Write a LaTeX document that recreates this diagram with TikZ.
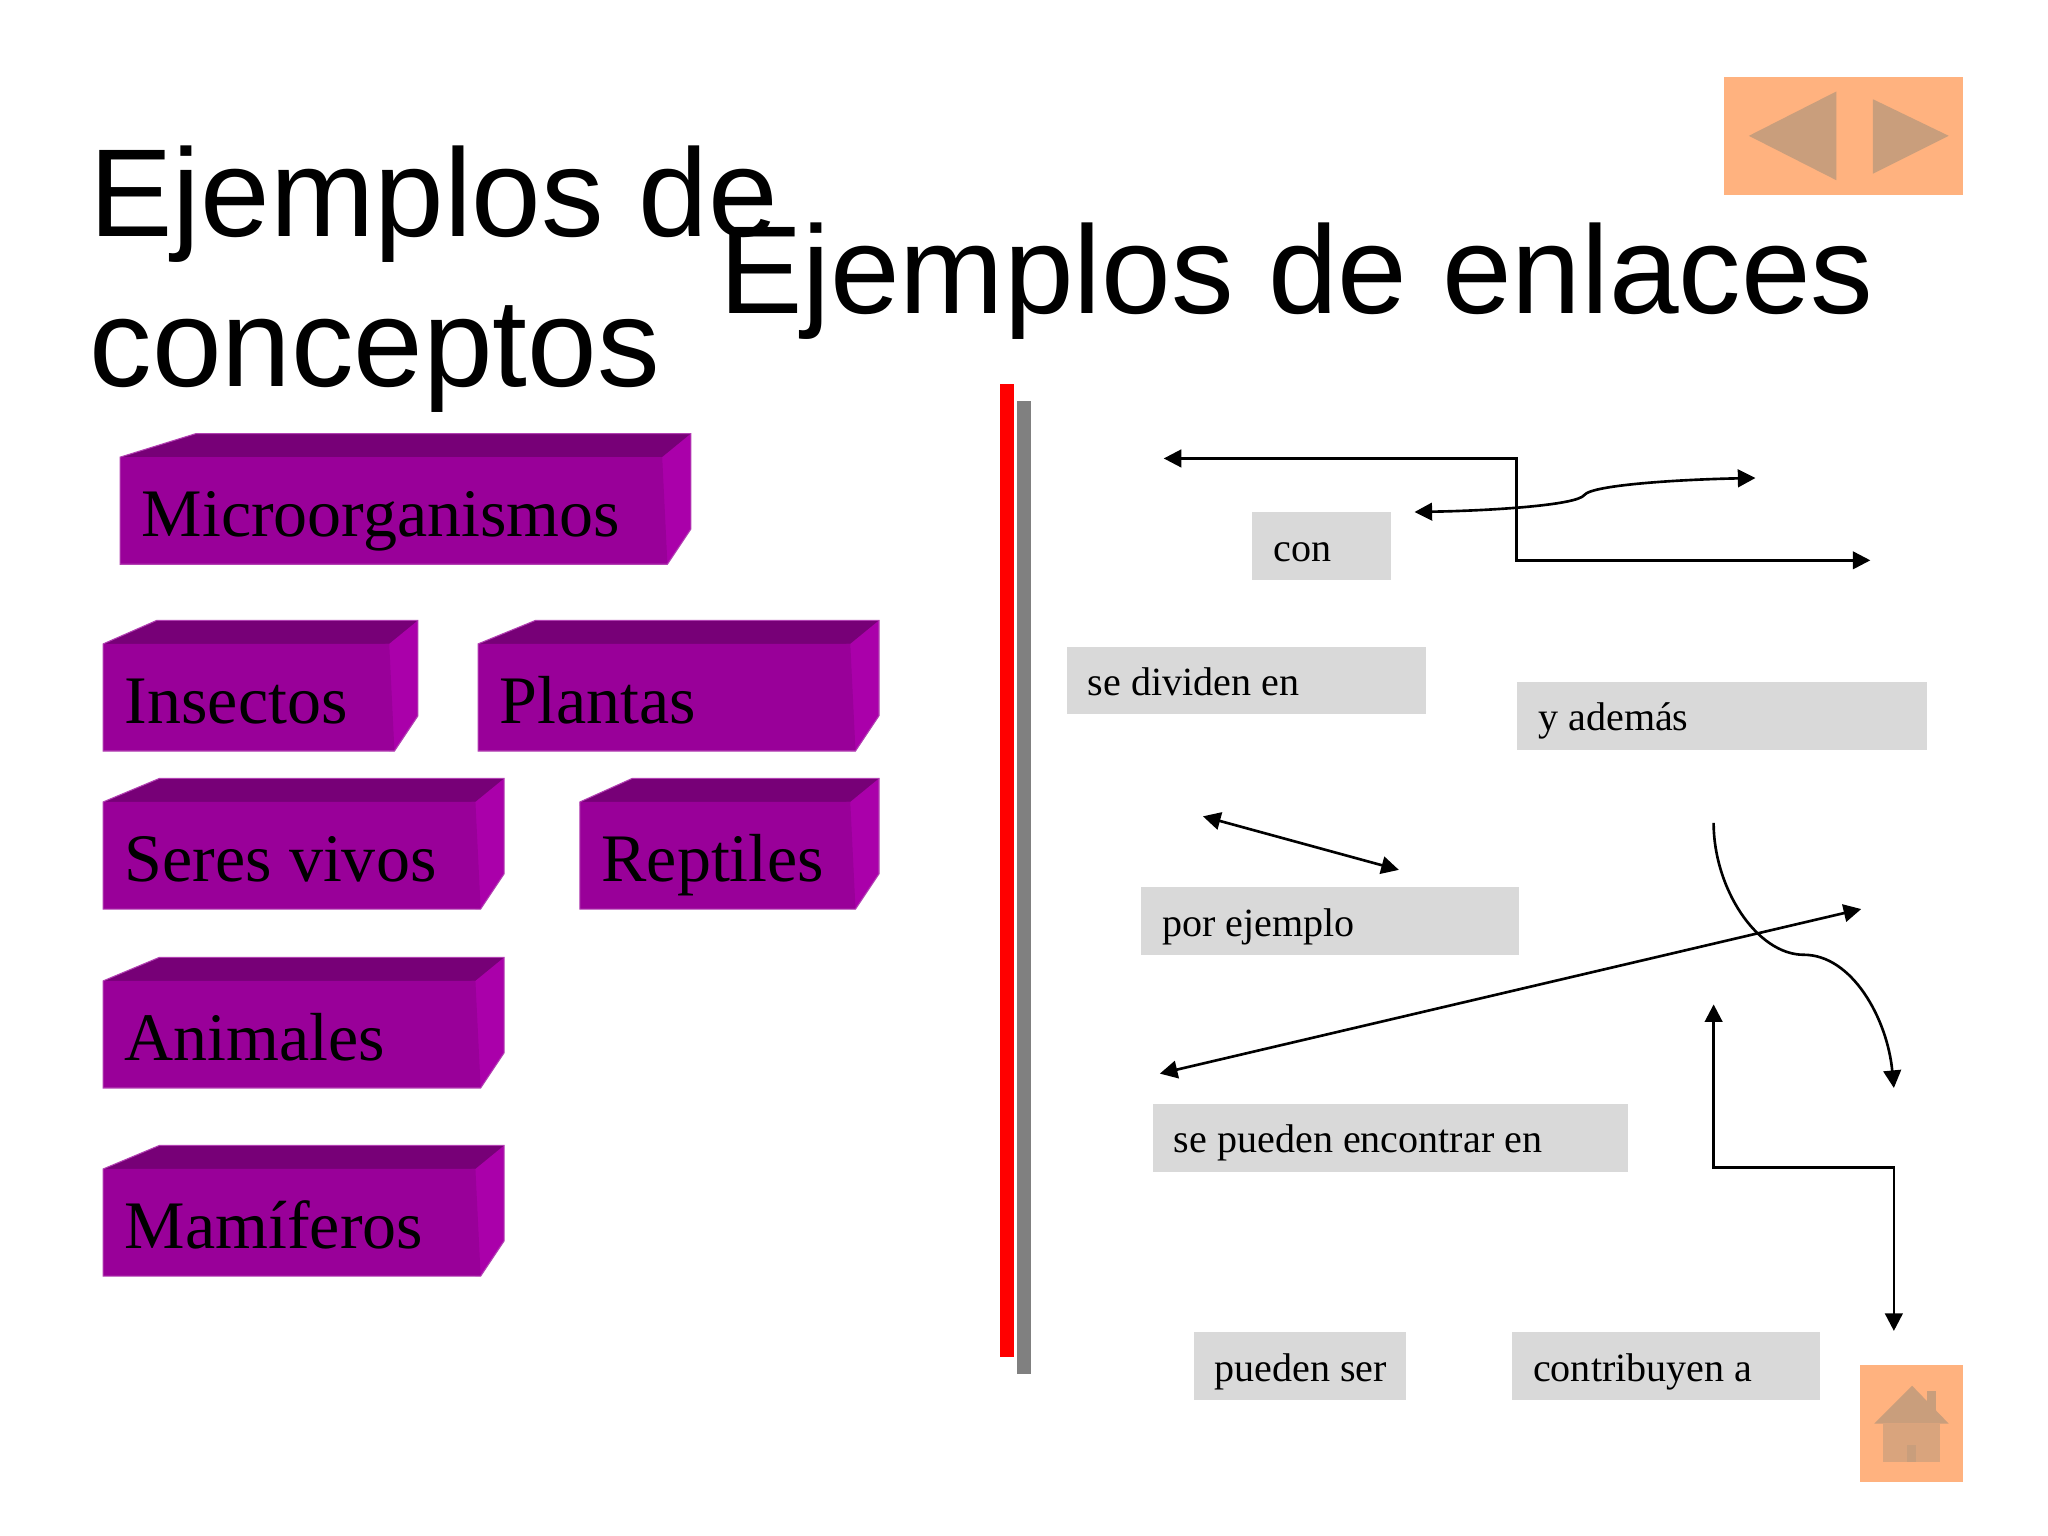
\documentclass[tikz,border=0pt]{standalone}
\usepackage{fontspec}
\setmainfont{Liberation Serif}
\newfontfamily\titlefont{Liberation Sans}
\usetikzlibrary{arrows.meta}
\definecolor{prismfront}{HTML}{990099}
\definecolor{prismtop}{HTML}{770077}
\definecolor{prismside}{HTML}{AA00AA}
\definecolor{boxgray}{HTML}{D9D9D9}
\definecolor{navorange}{HTML}{FFB27F}
\definecolor{navicon}{HTML}{C99E7C}
% name, left, inner right, top, back left, text
\newcommand{\prismbox}[6]{
\fill[prismtop] (#2,#4+18) -- (#5,#4) -- (#3+22,#4) -- (#3+3,#4+21) -- (#2,#4+21) -- cycle;
\fill[prismside] (#3-3,#4+18) -- (#3,#4+18) -- (#3+22,#4) -- (#3+22,#4+73) -- (#3+4,#4+100) -- (#3,#4+100) -- cycle;
\fill[prismfront] (#2,#4+18) -- (#3,#4+18) -- (#3+4,#4+100) -- (#2,#4+100) -- cycle;
\draw[prismedge] (#2,#4+18) -- (#5,#4) -- (#3+22,#4) -- (#3+22,#4+73) -- (#3+4,#4+100) -- (#2,#4+100) -- cycle;
\node (#1) [prismtext] at (#2+16,#4+79) {#6};
}
\begin{document}
\begin{tikzpicture}[x=0.0130612cm,y=-0.0130612cm,
title/.style={
% The shape:
anchor=north west,
inner sep=0pt,
align=left,
font=\titlefont\fontsize{35.6}{42.8}\selectfont
},
prismedge/.style={
draw=prismfront!75!white,
line width=0.3pt
},
prismtext/.style={
anchor=base west,
inner sep=0pt,
font=\fontsize{19.35}{23}\selectfont
},
linkbox/.style={
rectangle,
anchor=north west,
fill=boxgray,
inner xsep=5.95pt,
inner ysep=0pt,
xshift=0.1pt,
yshift=0.2pt,
text width=#1*0.37143pt-11.9pt,
text height=14pt,
text depth=5.3pt,
execute at begin node={\spaceskip=0.25em\relax\hbox\bgroup},
execute at end node={\egroup},
font=\fontsize{11.4}{13}\selectfont
},
coord/.style={
coordinate
},
link/.style={
line width=0.75pt,
{Triangle[length=5pt,width=5pt]}-{Triangle[length=5pt,width=5pt]}
}
]
\useasboundingbox (0,0) rectangle (1568,1176);
\fill[white] (0,0) rectangle (1568,1176);
% Titles
\node (concepts) [title] at (68,111) {Ejemplos de\\conceptos};
\node (links) [title] at (550,170) {Ejemplos de enlaces};
% Concept boxes
\prismbox{micro}{92}{507}{332}{150}{Microorganismos}
\prismbox{insects}{79}{298}{475}{120}{Insectos}
\prismbox{plants}{366}{651}{475}{410}{Plantas}
\prismbox{beings}{79}{364}{596}{122}{Seres vivos}
\prismbox{reptiles}{444}{651}{596}{484}{Reptiles}
\prismbox{animals}{79}{364}{733}{122}{Animales}
\prismbox{mammals}{79}{364}{877}{122}{Mamíferos}
% Divider
\fill[gray] (779,307) rectangle (789,1052);
\fill[red] (766,294) rectangle (776,1039);
% Link labels
\node (with) [linkbox=106] at (958,392) {con};
\node (divide) [linkbox=275] at (816,495) {se dividen en};
\node (also) [linkbox=314] at (1161,522) {y además};
\node (example) [linkbox=289] at (873,679) {por ejemplo};
\node (found) [linkbox=364] at (882,845) {se pueden encontrar en};
\node (canbe) [linkbox=163] at (913,1020) {pueden ser};
\node (help) [linkbox=236] at (1157,1020) {contribuyen a};
% Connector ends
\node (start1) [coord] at (891,351) {};
\node (bend1) [coord] at (1161,351) {};
\node (bend2) [coord] at (1161,429) {};
\node (end1) [coord] at (1432,429) {};
\node (start2) [coord] at (1083,392) {};
\node (mid2) [coord] at (1213,379) {};
\node (end2) [coord] at (1344,366) {};
\node (start3) [coord] at (921,625) {};
\node (end3) [coord] at (1071,666) {};
\node (start4) [coord] at (888,822) {};
\node (end4) [coord] at (1425,696) {};
\node (start5) [coord] at (1312,630) {};
\node (mid5) [coord] at (1381,731) {};
\node (end5) [coord] at (1450,833) {};
\node (start6) [coord] at (1312,769) {};
\node (bend3) [coord] at (1312,894) {};
\node (bend4) [coord] at (1450,894) {};
\node (end6) [coord] at (1450,1019) {};
\draw [link] (start1) -- (bend1) -- (bend2) -- (end1);
\draw [link] (start2) .. controls (1140,391) and (1207,387) .. (mid2) .. controls (1219,371) and (1290,367) .. (end2);
\draw [link] (start3) -- (end3);
\draw [link] (start4) -- (end4);
\draw [line width=0.75pt,-{Triangle[length=5pt,width=5pt]}] (start5) .. controls (1312,680) and (1345,731) .. (mid5) .. controls (1418,731) and (1445,780) .. (end5);
\draw [link] (start6) -- (bend3) -- (bend4) -- (end6);
% Navigation buttons
\fill[navorange] (1320,59) rectangle (1503,149);
\fill[navicon] (1339,104) -- (1406,70) -- (1406,138) -- cycle;
\fill[navicon] (1492,104) -- (1434,76) -- (1434,133) -- cycle;
\fill[navorange] (1424,1045) rectangle (1503,1135);
\fill[navicon] (1475,1065) rectangle (1482,1080);
\fill[navicon] (1464,1061) -- (1492,1090) -- (1435,1090) -- cycle;
\fill[navicon!70!navorange] (1442,1090) rectangle (1485,1119);
\fill[navicon] (1460,1106) rectangle (1467,1119);
\end{tikzpicture}
\end{document}
